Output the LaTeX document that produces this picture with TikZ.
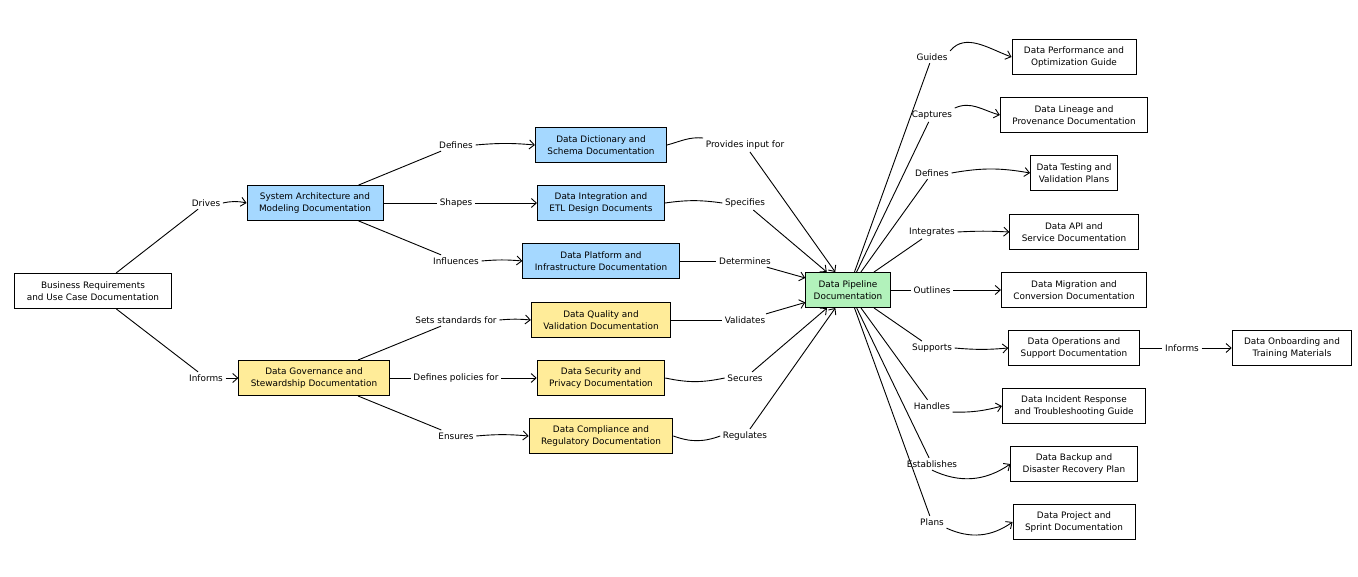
\documentclass[tikz,border=0pt]{standalone}
\usepackage{fontspec}
\setmainfont{DejaVu Sans}
\usepackage{tikz}
\usetikzlibrary{arrows.meta}
\definecolor{docblue}{HTML}{A5D8FF}
\definecolor{docyellow}{HTML}{FFEC99}
\definecolor{docgreen}{HTML}{B2F2BB}

\begin{document}
\begin{tikzpicture}[x=1pt, y=1pt, every node/.style={font=\fontsize{8.9}{12}\selectfont, align=center},
	doc/.style={draw, line width=0.9pt, minimum height=35pt, inner xsep=12pt, fill=white},
	blue doc/.style={doc, fill=docblue},
	yellow doc/.style={doc, fill=docyellow},
	green doc/.style={doc, fill=docgreen, inner xsep=8pt},
	lbl/.style={inner sep=2.5pt},
	link/.style={line width=0.9pt},
	arr/.style={link, -{Straight Barb[length=5pt,width=9pt]}},]

    \useasboundingbox (0,0) rectangle (1358,576);

    % boxes
    \node[doc] (busreq) at (93,285) {Business Requirements\\and Use Case Documentation};
    \node[blue doc] (sysarch) at (315,373) {System Architecture and\\Modeling Documentation};
    \node[yellow doc] (govern) at (314,198) {Data Governance and\\Stewardship Documentation};
    \node[blue doc] (dict) at (601,431) {Data Dictionary and\\Schema Documentation};
    \node[blue doc] (integ) at (601,373) {Data Integration and\\ETL Design Documents};
    \node[blue doc] (platf) at (601,315) {Data Platform and\\Infrastructure Documentation};
    \node[yellow doc] (quality) at (601,256) {Data Quality and\\Validation Documentation};
    \node[yellow doc] (secur) at (601,198) {Data Security and\\Privacy Documentation};
    \node[yellow doc] (compl) at (601,140) {Data Compliance and\\Regulatory Documentation};
    \node[green doc] (pipe) at (848,286) {Data Pipeline\\Documentation};
    \node[doc] (perf) at (1074,519) {Data Performance and\\Optimization Guide};
    \node[doc] (lineage) at (1074,461) {Data Lineage and\\Provenance Documentation};
    \node[doc, inner xsep=6pt] (testing) at (1074,403) {Data Testing and\\Validation Plans};
    \node[doc] (api) at (1074,344) {Data API and\\Service Documentation};
    \node[doc] (migr) at (1074,286) {Data Migration and\\Conversion Documentation};
    \node[doc] (ops) at (1074,228) {Data Operations and\\Support Documentation};
    \node[doc] (incid) at (1074,170) {Data Incident Response\\and Troubleshooting Guide};
    \node[doc] (backup) at (1074,112) {Data Backup and\\Disaster Recovery Plan};
    \node[doc] (project) at (1074,54) {Data Project and\\Sprint Documentation};
    \node[doc] (onboard) at (1292,228) {Data Onboarding and\\Training Materials};

    % labels
    \node[lbl] (drives) at (206,373) {Drives};
    \node[lbl] (informs) at (206,198) {Informs};
    \node[lbl] (defines) at (456,431) {Defines};
    \node[lbl] (shapes) at (456,373) {Shapes};
    \node[lbl] (influences) at (456,315) {Influences};
    \node[lbl] (standards) at (456,256) {Sets standards for};
    \node[lbl] (policies) at (456,198) {Defines policies for};
    \node[lbl] (ensures) at (456,140) {Ensures};
    \node[lbl] (provides) at (745,431) {Provides input for};
    \node[lbl] (specifies) at (745,373) {Specifies};
    \node[lbl] (determines) at (745,315) {Determines};
    \node[lbl] (validates) at (745,256) {Validates};
    \node[lbl] (secures) at (745,198) {Secures};
    \node[lbl] (regulates) at (745,140) {Regulates};
    \node[lbl] (guides) at (932,519) {Guides};
    \node[lbl] (captures) at (932,461) {Captures};
    \node[lbl] (defines2) at (932,403) {Defines};
    \node[lbl] (integrates) at (932,344) {Integrates};
    \node[lbl] (outlines) at (932,286) {Outlines};
    \node[lbl] (supports) at (932,228) {Supports};
    \node[lbl] (handles) at (932,170) {Handles};
    \node[lbl] (establishes) at (932,112) {Establishes};
    \node[lbl] (plans) at (932,54) {Plans};
    \node[lbl] (informs2) at (1182,228) {Informs};

    % connectors
    \draw[link] (busreq) -- (drives);
    \draw[arr] (drives.east) to[bend left=12] (sysarch.west);
    \draw[link] (busreq) -- (informs);
    \draw[arr] (informs.east) -- (govern.west);

    \draw[link] (sysarch) -- (defines);
    \draw[arr] (defines.east) to[bend left=5] (dict.west);
    \draw[link] (sysarch) -- (shapes);
    \draw[arr] (shapes.east) -- (integ.west);
    \draw[link] (sysarch) -- (influences);
    \draw[arr] (influences.east) to[bend left=5] (platf.west);
    \draw[link] (govern) -- (standards);
    \draw[arr] (standards.east) to[bend left=5] (quality.west);
    \draw[link] (govern) -- (policies);
    \draw[arr] (policies.east) -- (secur.west);
    \draw[link] (govern) -- (ensures);
    \draw[arr] (ensures.east) to[bend left=5] (compl.west);

    \draw[link] (dict.east) to[out=15,in=175] (provides.north west);
    \draw[arr] (provides) -- (pipe);
    \draw[link] (integ.east) to[bend left=8] (specifies.west);
    \draw[arr] (specifies) -- (pipe);
    \draw[link] (platf.east) -- (determines.west);
    \draw[arr] (determines) -- (pipe);
    \draw[link] (quality.east) -- (validates.west);
    \draw[arr] (validates) -- (pipe);
    \draw[link] (secur.east) to[bend right=12] (secures.west);
    \draw[arr] (secures) -- (pipe);
    \draw[link] (compl.east) to[bend right=20] (regulates.west);
    \draw[arr] (regulates) -- (pipe);

    \draw[link] (pipe) -- (guides);
    \draw[arr] (guides.north east) to[out=50,in=160] (perf.west);
    \draw[link] (pipe) -- (captures);
    \draw[arr] (captures.north east) to[out=25,in=165] (lineage.west);
    \draw[link] (pipe) -- (defines2);
    \draw[arr] (defines2.east) to[bend left=10] (testing.west);
    \draw[link] (pipe) -- (integrates);
    \draw[arr] (integrates.east) to[bend left=3] (api.west);
    \draw[link] (pipe) -- (outlines);
    \draw[arr] (outlines.east) -- (migr.west);
    \draw[link] (pipe) -- (supports);
    \draw[arr] (supports.east) to[bend right=5] (ops.west);
    \draw[link] (pipe) -- (handles);
    \draw[arr] (handles.south east) to[bend right=8] (incid.west);
    \draw[link] (pipe) -- (establishes);
    \draw[arr] (establishes.south) to[bend right=30] (backup.west);
    \draw[link] (pipe) -- (plans);
    \draw[arr] (plans.south east) to[bend right=30] (project.west);
    \draw[link] (ops.east) -- (informs2.west);
    \draw[arr] (informs2.east) -- (onboard.west);
\end{tikzpicture}
\end{document}
